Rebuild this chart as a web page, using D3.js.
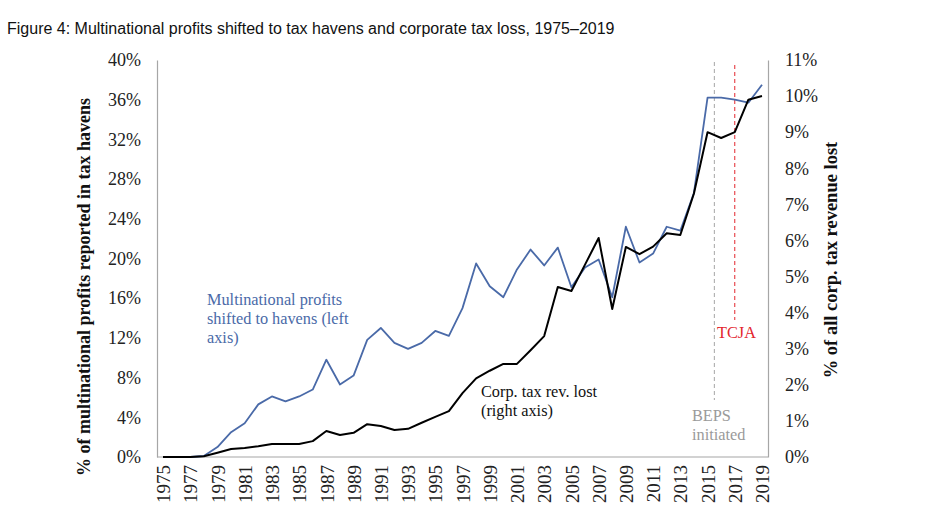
<!DOCTYPE html>
<html>
<head>
<meta charset="utf-8">
<script src="https://cdn.jsdelivr.net/npm/d3@7"></script>
<style>
  body { margin: 0; background: #fff; }
  svg { display: block; }
  .serif text, text.serif { font-family: "Liberation Serif", "Times New Roman", serif; }
</style>
</head>
<body>
<div id="chart"></div>
<script>
// years on the category axis
const years = d3.range(1975, 2020);
const yearLabels = years.filter(y => y % 2 === 1);

// % of multinational profits reported in tax havens (left axis)
const profitsShifted = [
  0, 0, 0, 0.1, 1.0, 2.5, 3.4, 5.3, 6.1, 5.6,
  6.1, 6.8, 9.8, 7.3, 8.2, 11.8, 13.0, 11.5, 10.9, 11.5,
  12.7, 12.2, 15.0, 19.5, 17.2, 16.1, 18.9, 20.9, 19.3, 21.1,
  17.1, 19.1, 19.9, 16.1, 23.2, 19.6, 20.5, 23.2, 22.8, 26.6,
  36.2, 36.2, 36.0, 35.7, 37.5
];

// % of all corporate tax revenue lost (right axis)
const taxLost = [
  0, 0, 0, 0.02, 0.12, 0.22, 0.25, 0.3, 0.36, 0.36,
  0.36, 0.44, 0.72, 0.61, 0.67, 0.91, 0.86, 0.75, 0.78, 0.95,
  1.11, 1.27, 1.77, 2.18, 2.39, 2.58, 2.58, 2.96, 3.35, 4.71,
  4.6, 5.33, 6.07, 4.1, 5.82, 5.62, 5.83, 6.2, 6.15, 7.3,
  9.0, 8.84, 9.0, 9.9, 10.0
];

const leftTicks = d3.range(0, 41, 4);
const rightTicks = d3.range(0, 12, 1);

// policy events drawn as dashed lines
const events = [
  { year: 2015.5, lines: ["BEPS", "initiated"], color: "#a6a6a6" },
  { year: 2017, lines: ["TCJA"], color: "#e3262d" }
];

const W = 937, H = 518;
const PLOT = { LEFT: 157, RIGHT: 768, TOP: 60, BOTTOM: 457 };
const BLUE = "#4a6aa8";

const svg = d3.select("#chart").append("svg")
  .attr("width", W)
  .attr("height", H);

// scales
const x = d3.scaleLinear().domain([1975, 2019]).range([163, 762]);
const yL = d3.scaleLinear().domain([0, 40]).range([PLOT.BOTTOM, PLOT.TOP]);
const yR = d3.scaleLinear().domain([0, 11]).range([PLOT.BOTTOM, PLOT.TOP]);

// title
svg.append("text")
  .attr("x", 7)
  .attr("y", 34)
  .attr("font-family", "'Liberation Sans', Arial, sans-serif")
  .attr("font-size", 16)
  .attr("fill", "#111")
  .text("Figure 4: Multinational profits shifted to tax havens and corporate tax loss, 1975\u20132019");

// axes
const xAxis = svg.append("g")
  .attr("class", "serif")
  .attr("transform", `translate(0, ${PLOT.BOTTOM})`)
  .call(d3.axisBottom(x).tickValues(yearLabels).tickFormat(d3.format("d")).tickSize(0).tickPadding(0));
xAxis.select(".domain").attr("d", `M${PLOT.LEFT},0H${PLOT.RIGHT}`);

const leftAxis = svg.append("g")
  .attr("class", "serif")
  .attr("transform", `translate(${PLOT.LEFT}, 0)`)
  .call(d3.axisLeft(yL).tickValues(leftTicks).tickFormat(d => d + "%").tickSize(0).tickPadding(16));

const rightAxis = svg.append("g")
  .attr("class", "serif")
  .attr("transform", `translate(${PLOT.RIGHT}, 0)`)
  .call(d3.axisRight(yR).tickValues(rightTicks).tickFormat(d => d + "%").tickSize(0).tickPadding(17));

[xAxis, leftAxis, rightAxis].forEach(a => {
  a.select(".domain").attr("stroke", "#a6a6a6").attr("stroke-width", 1.2);
  a.selectAll("text").attr("font-size", 18).attr("fill", "#222");
});

// year labels read bottom to top
xAxis.selectAll("text")
  .attr("transform", "rotate(-90)")
  .attr("text-anchor", "end")
  .attr("font-size", 19)
  .attr("x", -8)
  .attr("y", 0)
  .attr("dy", "0.35em");

// axis titles
svg.append("text")
  .attr("class", "serif")
  .attr("transform", "translate(90, 287) rotate(-90)")
  .attr("text-anchor", "middle")
  .attr("font-size", 18)
  .attr("font-weight", "bold")
  .attr("fill", "#111")
  .text("% of multinational profits reported in tax havens");

svg.append("text")
  .attr("class", "serif")
  .attr("transform", "translate(837, 260) rotate(-90)")
  .attr("text-anchor", "middle")
  .attr("font-size", 18.5)
  .attr("font-weight", "bold")
  .attr("fill", "#111")
  .text("% of all corp. tax revenue lost");

// event lines
svg.selectAll(".event")
  .data(events)
  .enter().append("line")
    .attr("class", "event")
    .attr("x1", d => x(d.year))
    .attr("x2", d => x(d.year))
    .attr("y1", d => d.lines.length > 1 ? 62 : 65)
    .attr("y2", d => d.lines.length > 1 ? 400 : 320)
    .attr("stroke", d => d.color)
    .attr("stroke-width", 1)
    .attr("stroke-dasharray", "4,3");

// lines
const blueLine = d3.line().x((d, i) => x(years[i])).y(d => yL(d));
const blackLine = d3.line().x((d, i) => x(years[i])).y(d => yR(d));

svg.append("path")
  .datum(profitsShifted)
  .attr("fill", "none")
  .attr("stroke", BLUE)
  .attr("stroke-width", 1.8)
  .attr("stroke-linejoin", "round")
  .attr("d", blueLine);

svg.append("path")
  .datum(taxLost)
  .attr("fill", "none")
  .attr("stroke", "#000")
  .attr("stroke-width", 2)
  .attr("stroke-linejoin", "round")
  .attr("d", blackLine);

// annotations
function label(lines, x0, y0, color) {
  const t = svg.append("text")
    .attr("class", "serif")
    .attr("font-size", 16.3)
    .attr("fill", color);
  lines.forEach((l, i) => {
    t.append("tspan").attr("x", x0).attr("y", y0 + i * 19).text(l);
  });
}

label(["Multinational profits", "shifted to havens (left", "axis)"], 207, 305, BLUE);
label(["Corp. tax rev. lost", "(right axis)"], 481, 397, "#111");
label(["BEPS", "initiated"], 692, 421, "#9a9a9a");
label(["TCJA"], 717, 338, "#e3262d");
</script>
</body>
</html>
